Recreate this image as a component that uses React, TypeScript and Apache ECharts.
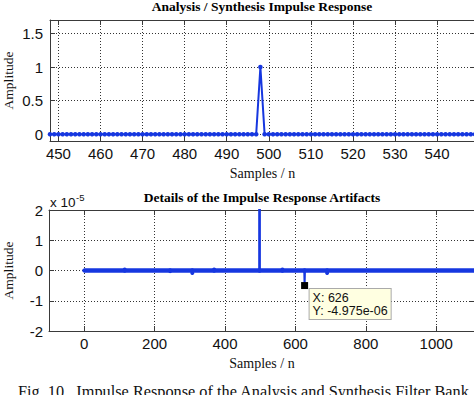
import React, { useEffect, useRef } from "react";
import * as echarts from "echarts";

// ---------- data ----------
// Top panel: impulse response samples, one per sample n starting at topStart
const topStart = 448;
const topAmplitude = [
  0, 0, 0, 0, 0, 0, 0, 0, 0, 0, // 448-457
  0, 0, 0, 0, 0, 0, 0, 0, 0, 0, // 458-467
  0, 0, 0, 0, 0, 0, 0, 0, 0, 0, // 468-477
  0, 0, 0, 0, 0, 0, 0, 0, 0, 0, // 478-487
  0, 0, 0, 0, 0, 0, 0, 0, 0, 0, // 488-497
  1, 0, 0, 0, 0, 0, 0, 0, 0, 0, // 498-507
  0, 0, 0, 0, 0, 0, 0, 0, 0, 0, // 508-517
  0, 0, 0, 0, 0, 0, 0, 0, 0, 0, // 518-527
  0, 0, 0, 0, 0, 0, 0, 0, 0, 0, // 528-537
  0, 0, 0, 0, 0, 0, 0, 0, 0, 0, // 538-547
  0, 0, // 548-549
];
const topXTicks = [450, 460, 470, 480, 490, 500, 510, 520, 530, 540];
const topYTicks = [0, 0.5, 1, 1.5];

// Bottom panel: artifacts (sample index / amplitude)
const detailSamples = [
  0, 114, 115, 116, 243, 244, 245, 306, 307, 308, 368, 369, 370,
  497, 498, 499, 562, 563, 564, 625, 626, 627, 689, 690, 691, 1110,
];
const detailAmplitude = [
  0, 0, 3e-7, 0, 0, -2e-7, 0, 0, -8e-7, 0, 0, 3e-7, 0,
  0, 1, 0, 0, 3e-7, 0, 0, -4.975e-6, 0, 0, -8e-7, 0, 0,
];
const detailXTicks = [0, 200, 400, 600, 800, 1000];
const detailYTicks = [-2e-5, -1e-5, 0, 1e-5, 2e-5];
const cursorSample = 626;

const BLUE = "#1637e0";
const AXIS = "#3a3a3a";
const SANS = "Liberation Sans";
const SERIF = "Liberation Serif";
const TICK_FONT = 15;

function fmtMatlabExp(v: number): string {
  const s = v.toExponential(3); // e.g. -4.975e-6
  return s.replace(/e([+-])(\d)$/, "e$10$2");
}

function mainX(gridIndex: number, min: number, max: number, ticks: number[], margin: number, nameGap: number) {
  return {
    type: "value",
    gridIndex,
    position: "bottom",
    min,
    max,
    name: "Samples / n",
    nameLocation: "middle",
    nameGap,
    nameMoveOverlap: false,
    nameTextStyle: { fontFamily: SERIF, fontSize: 14, color: "#111" },
    axisLine: { show: true, onZero: false, lineStyle: { color: AXIS, width: 1 } },
    axisTick: { show: true, inside: true, length: 5, customValues: ticks, lineStyle: { color: AXIS } },
    axisLabel: {
      show: true,
      customValues: ticks,
      margin,
      fontFamily: SANS,
      fontSize: TICK_FONT,
      color: "#111",
      formatter: (v: number) => String(v),
    },
    splitLine: { show: true, lineStyle: { color: "#333", type: [1, 2], width: 1 } },
  };
}
function topX(gridIndex: number, min: number, max: number, ticks: number[]) {
  return {
    type: "value",
    gridIndex,
    position: "top",
    min,
    max,
    axisLine: { show: true, onZero: false, lineStyle: { color: AXIS, width: 1 } },
    axisTick: { show: true, inside: true, length: 5, customValues: ticks, lineStyle: { color: AXIS } },
    axisLabel: { show: false },
    splitLine: { show: false },
  };
}
function mainY(gridIndex: number, min: number, max: number, ticks: number[], margin: number, nameGap: number, fmt?: (v: number) => string) {
  return {
    type: "value",
    gridIndex,
    position: "left",
    min,
    max,
    name: "Amplitude",
    nameLocation: "middle",
    nameGap,
    nameMoveOverlap: false,
    nameTextStyle: { fontFamily: SERIF, fontSize: 13.5, color: "#111" },
    axisLine: { show: true, onZero: false, lineStyle: { color: AXIS, width: 1 } },
    axisTick: { show: true, inside: true, length: 5, customValues: ticks, lineStyle: { color: AXIS } },
    axisLabel: { show: true, customValues: ticks, margin, fontFamily: SANS, fontSize: TICK_FONT, color: "#111", formatter: fmt },
    splitLine: { show: true, lineStyle: { color: "#333", type: [1, 2], width: 1 } },
  };
}
function rightY(gridIndex: number, min: number, max: number, ticks: number[]) {
  return {
    type: "value",
    gridIndex,
    position: "right",
    min,
    max,
    axisLine: { show: true, onZero: false, lineStyle: { color: AXIS, width: 1 } },
    axisTick: { show: true, inside: true, length: 5, customValues: ticks, lineStyle: { color: AXIS } },
    axisLabel: { show: false },
    splitLine: { show: false },
  };
}

export default function App() {
  const ref = useRef<HTMLDivElement>(null);
  useEffect(() => {
    if (!ref.current) return;
    const chart = echarts.init(ref.current, null, { renderer: "svg" });
    const topData = topAmplitude.map((v, i) => [topStart + i, v]);
    const detailData = detailSamples.map((n, i) => [n, detailAmplitude[i]]);
    const cursorValue = detailAmplitude[detailSamples.indexOf(cursorSample)];
    const first = detailSamples[0];
    const last = detailSamples[detailSamples.length - 1];

    chart.setOption({
      animation: false,
      backgroundColor: "#ffffff",
      grid: [
        { left: 50, top: 20, width: 425, height: 121, containLabel: false, outerBoundsMode: "none" },
        { left: 49, top: 210, width: 426, height: 121, containLabel: false, outerBoundsMode: "none" },
      ],
      xAxis: [
        mainX(0, 448, 549, topXTicks, 5, 25),
        topX(0, 448, 549, topXTicks),
        mainX(1, -100, 1110, detailXTicks, 5, 25),
        topX(1, -100, 1110, detailXTicks),
      ],
      yAxis: [
        mainY(0, -0.1, 1.7, topYTicks, 7, 35),
        rightY(0, -0.1, 1.7, topYTicks),
        mainY(1, -2e-5, 2e-5, detailYTicks, 6, 34, (v: number) => String(Math.round(v / 1e-5))),
        rightY(1, -2e-5, 2e-5, detailYTicks),
      ],
      series: [
        {
          type: "line",
          xAxisIndex: 0,
          yAxisIndex: 0,
          data: topData,
          symbol: "circle",
          symbolSize: 4.5,
          showAllSymbol: true,
          clip: true,
          lineStyle: { color: BLUE, width: 2 },
          itemStyle: { color: BLUE },
          emphasis: { disabled: true },
        },
        {
          type: "line",
          xAxisIndex: 2,
          yAxisIndex: 2,
          data: detailData,
          symbol: "circle",
          symbolSize: 4,
          showAllSymbol: true,
          clip: true,
          lineStyle: { color: BLUE, width: 2 },
          itemStyle: { color: BLUE },
          emphasis: { disabled: true },
          markLine: {
            silent: true,
            symbol: "none",
            label: { show: false },
            lineStyle: { color: BLUE, width: 4.5, type: "solid" },
            data: [[{ coord: [first, 0] }, { coord: [last, 0] }]],
          },
          markPoint: {
            silent: true,
            symbol: "rect",
            symbolSize: 7,
            itemStyle: { color: "#000" },
            label: {
              show: true,
              position: [8.5, 7],
              align: "left",
              verticalAlign: "top",
              formatter: () => `X: ${cursorSample}\nY: ${fmtMatlabExp(cursorValue)}`,
              fontFamily: SANS,
              fontSize: 12.5,
              lineHeight: 13.5,
              color: "#111",
              backgroundColor: "#ffffe1",
              borderColor: "#aaa",
              borderWidth: 1,
              padding: [2, 3, 1, 3],
            },
            data: [{ coord: [cursorSample, cursorValue] }],
          },
        },
      ],
      graphic: [
        {
          type: "text",
          x: 262,
          y: 6,
          style: {
            text: "Analysis / Synthesis Impulse Response",
            fontFamily: SERIF,
            fontWeight: "bold",
            fontSize: 13.5,
            fill: "#000",
            align: "center",
            verticalAlign: "middle",
          },
        },
        {
          type: "text",
          x: 262,
          y: 197.5,
          style: {
            text: "Details of the Impulse Response Artifacts",
            fontFamily: SERIF,
            fontWeight: "bold",
            fontSize: 13.5,
            fill: "#000",
            align: "center",
            verticalAlign: "middle",
          },
        },
        {
          type: "text",
          x: 50,
          y: 202,
          style: { text: "x 10", fontFamily: SANS, fontSize: 13.5, fill: "#111", align: "left", verticalAlign: "middle" },
        },
        {
          type: "text",
          x: 76,
          y: 197,
          style: { text: "-5", fontFamily: SANS, fontSize: 9.5, fill: "#111", align: "left", verticalAlign: "middle" },
        },
        {
          type: "text",
          x: 18,
          y: 391,
          style: {
            text: "Fig. 10.  Impulse Response of the Analysis and Synthesis Filter Bank",
            fontFamily: SERIF,
            fontSize: 16.3,
            fill: "#111",
            align: "left",
            verticalAlign: "middle",
          },
        },
      ],
    });
    return () => chart.dispose();
  }, []);
  return <div ref={ref} style={{ position: "fixed", left: 0, top: 0, width: 474, height: 395 }} />;
}
